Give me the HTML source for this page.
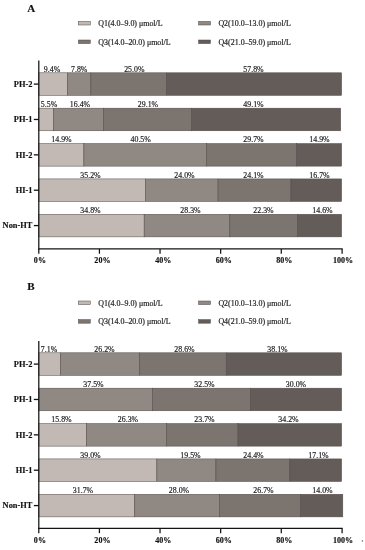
<!DOCTYPE html>
<html><head><meta charset="utf-8"><title>Figure</title>
<style>
html,body{margin:0;padding:0;background:#fff;}
svg{display:block;font-family:"Liberation Serif","DejaVu Serif",serif;fill:#1c1c1c;}
text{stroke:#1c1c1c;stroke-width:0.18px;}
.b{font-weight:bold;fill:#111;stroke:#111;stroke-width:0.15px;}
</style></head><body>
<svg width="365" height="550" viewBox="0 0 365 550">
<rect x="0" y="0" width="365" height="550" fill="#ffffff" stroke="none"/>
<text x="27.2" y="11.50" class="b" font-size="11">A</text>
<rect x="78.4" y="21.40" width="11.9" height="3.6" fill="#c2b9b4" stroke="#4e4745" stroke-width="0.5"/>
<text x="98.20" y="26.00" font-size="7.95">Q1(4.0–9.0) μmol/L</text>
<rect x="198.6" y="21.40" width="11.9" height="3.6" fill="#908983" stroke="#4e4745" stroke-width="0.5"/>
<text x="218.40" y="26.00" font-size="7.95">Q2(10.0–13.0) μmol/L</text>
<rect x="78.4" y="40.00" width="11.9" height="3.6" fill="#7b746f" stroke="#4e4745" stroke-width="0.5"/>
<text x="98.20" y="44.60" font-size="7.95">Q3(14.0–20.0) μmol/L</text>
<rect x="198.6" y="40.00" width="11.9" height="3.6" fill="#645c59" stroke="#4e4745" stroke-width="0.5"/>
<text x="218.40" y="44.60" font-size="7.95">Q4(21.0–59.0) μmol/L</text>
<rect x="38.80" y="72.80" width="28.46" height="22.6" fill="#c2b9b4" stroke="#4e4745" stroke-width="0.5"/>
<rect x="67.26" y="72.80" width="23.62" height="22.6" fill="#908983" stroke="#4e4745" stroke-width="0.5"/>
<rect x="90.88" y="72.80" width="75.70" height="22.6" fill="#7b746f" stroke="#4e4745" stroke-width="0.5"/>
<rect x="166.58" y="72.80" width="175.02" height="22.6" fill="#645c59" stroke="#4e4745" stroke-width="0.5"/>
<text x="52.00" y="71.50" font-size="7.85" text-anchor="middle">9.4%</text>
<text x="79.20" y="71.50" font-size="7.85" text-anchor="middle">7.8%</text>
<text x="134.30" y="71.50" font-size="7.85" text-anchor="middle">25.0%</text>
<text x="253.50" y="71.50" font-size="7.85" text-anchor="middle">57.8%</text>
<line x1="33.80" y1="84.10" x2="38.80" y2="84.10" stroke="#141414" stroke-width="1.3"/>
<text x="32.40" y="86.80" class="b" font-size="8.4" text-anchor="end">PH-2</text>
<rect x="38.80" y="108.17" width="14.53" height="22.6" fill="#c2b9b4" stroke="#4e4745" stroke-width="0.5"/>
<rect x="53.33" y="108.17" width="49.96" height="22.6" fill="#908983" stroke="#4e4745" stroke-width="0.5"/>
<rect x="103.30" y="108.17" width="88.11" height="22.6" fill="#7b746f" stroke="#4e4745" stroke-width="0.5"/>
<rect x="191.41" y="108.17" width="149.28" height="22.6" fill="#645c59" stroke="#4e4745" stroke-width="0.5"/>
<text x="49.00" y="106.87" font-size="7.85" text-anchor="middle">5.5%</text>
<text x="80.00" y="106.87" font-size="7.85" text-anchor="middle">16.4%</text>
<text x="148.00" y="106.87" font-size="7.85" text-anchor="middle">29.1%</text>
<text x="253.50" y="106.87" font-size="7.85" text-anchor="middle">49.1%</text>
<line x1="33.80" y1="119.47" x2="38.80" y2="119.47" stroke="#141414" stroke-width="1.3"/>
<text x="32.40" y="122.17" class="b" font-size="8.4" text-anchor="end">PH-1</text>
<rect x="38.80" y="143.54" width="45.12" height="22.6" fill="#c2b9b4" stroke="#4e4745" stroke-width="0.5"/>
<rect x="83.92" y="143.54" width="122.63" height="22.6" fill="#908983" stroke="#4e4745" stroke-width="0.5"/>
<rect x="206.55" y="143.54" width="89.93" height="22.6" fill="#7b746f" stroke="#4e4745" stroke-width="0.5"/>
<rect x="296.48" y="143.54" width="45.12" height="22.6" fill="#645c59" stroke="#4e4745" stroke-width="0.5"/>
<text x="61.50" y="142.24" font-size="7.85" text-anchor="middle">14.9%</text>
<text x="140.70" y="142.24" font-size="7.85" text-anchor="middle">40.5%</text>
<text x="253.50" y="142.24" font-size="7.85" text-anchor="middle">29.7%</text>
<text x="319.50" y="142.24" font-size="7.85" text-anchor="middle">14.9%</text>
<line x1="33.80" y1="154.84" x2="38.80" y2="154.84" stroke="#141414" stroke-width="1.3"/>
<text x="32.40" y="157.54" class="b" font-size="8.4" text-anchor="end">HI-2</text>
<rect x="38.80" y="178.91" width="106.59" height="22.6" fill="#c2b9b4" stroke="#4e4745" stroke-width="0.5"/>
<rect x="145.39" y="178.91" width="72.67" height="22.6" fill="#908983" stroke="#4e4745" stroke-width="0.5"/>
<rect x="218.06" y="178.91" width="72.97" height="22.6" fill="#7b746f" stroke="#4e4745" stroke-width="0.5"/>
<rect x="291.03" y="178.91" width="50.57" height="22.6" fill="#645c59" stroke="#4e4745" stroke-width="0.5"/>
<text x="90.50" y="177.61" font-size="7.85" text-anchor="middle">35.2%</text>
<text x="184.50" y="177.61" font-size="7.85" text-anchor="middle">24.0%</text>
<text x="253.50" y="177.61" font-size="7.85" text-anchor="middle">24.1%</text>
<text x="319.50" y="177.61" font-size="7.85" text-anchor="middle">16.7%</text>
<line x1="33.80" y1="190.21" x2="38.80" y2="190.21" stroke="#141414" stroke-width="1.3"/>
<text x="32.40" y="192.91" class="b" font-size="8.4" text-anchor="end">HI-1</text>
<rect x="38.80" y="214.28" width="105.37" height="22.6" fill="#c2b9b4" stroke="#4e4745" stroke-width="0.5"/>
<rect x="144.17" y="214.28" width="85.69" height="22.6" fill="#908983" stroke="#4e4745" stroke-width="0.5"/>
<rect x="229.87" y="214.28" width="67.52" height="22.6" fill="#7b746f" stroke="#4e4745" stroke-width="0.5"/>
<rect x="297.39" y="214.28" width="44.21" height="22.6" fill="#645c59" stroke="#4e4745" stroke-width="0.5"/>
<text x="90.50" y="212.98" font-size="7.85" text-anchor="middle">34.8%</text>
<text x="190.50" y="212.98" font-size="7.85" text-anchor="middle">28.3%</text>
<text x="263.50" y="212.98" font-size="7.85" text-anchor="middle">22.3%</text>
<text x="322.50" y="212.98" font-size="7.85" text-anchor="middle">14.6%</text>
<line x1="33.80" y1="225.58" x2="38.80" y2="225.58" stroke="#141414" stroke-width="1.3"/>
<text x="32.40" y="228.28" class="b" font-size="8.4" text-anchor="end">Non-HT</text>
<line x1="38.8" y1="60.60" x2="38.8" y2="249.55" stroke="#141414" stroke-width="1.25"/>
<line x1="38.20" y1="248.95" x2="342.70" y2="248.95" stroke="#141414" stroke-width="1.25"/>
<line x1="38.80" y1="248.95" x2="38.80" y2="253.75" stroke="#141414" stroke-width="1.25"/>
<text x="39.90" y="263.25" class="b" font-size="8.05" text-anchor="middle">0%</text>
<line x1="99.42" y1="248.95" x2="99.42" y2="253.75" stroke="#141414" stroke-width="1.25"/>
<text x="102.42" y="263.25" class="b" font-size="8.05" text-anchor="middle">20%</text>
<line x1="160.04" y1="248.95" x2="160.04" y2="253.75" stroke="#141414" stroke-width="1.25"/>
<text x="163.24" y="263.25" class="b" font-size="8.05" text-anchor="middle">40%</text>
<line x1="220.66" y1="248.95" x2="220.66" y2="253.75" stroke="#141414" stroke-width="1.25"/>
<text x="223.86" y="263.25" class="b" font-size="8.05" text-anchor="middle">60%</text>
<line x1="281.28" y1="248.95" x2="281.28" y2="253.75" stroke="#141414" stroke-width="1.25"/>
<text x="284.28" y="263.25" class="b" font-size="8.05" text-anchor="middle">80%</text>
<line x1="342.10" y1="248.95" x2="342.10" y2="253.75" stroke="#141414" stroke-width="1.25"/>
<text x="343.10" y="263.25" class="b" font-size="8.05" text-anchor="middle">100%</text>
<text x="27.2" y="290.40" class="b" font-size="11">B</text>
<rect x="78.4" y="301.00" width="11.9" height="3.6" fill="#c2b9b4" stroke="#4e4745" stroke-width="0.5"/>
<text x="98.20" y="305.60" font-size="7.95">Q1(4.0–9.0) μmol/L</text>
<rect x="198.6" y="301.00" width="11.9" height="3.6" fill="#908983" stroke="#4e4745" stroke-width="0.5"/>
<text x="218.40" y="305.60" font-size="7.95">Q2(10.0–13.0) μmol/L</text>
<rect x="78.4" y="319.60" width="11.9" height="3.6" fill="#7b746f" stroke="#4e4745" stroke-width="0.5"/>
<text x="98.20" y="324.20" font-size="7.95">Q3(14.0–20.0) μmol/L</text>
<rect x="198.6" y="319.60" width="11.9" height="3.6" fill="#645c59" stroke="#4e4745" stroke-width="0.5"/>
<text x="218.40" y="324.20" font-size="7.95">Q4(21.0–59.0) μmol/L</text>
<rect x="38.80" y="352.80" width="21.50" height="22.6" fill="#c2b9b4" stroke="#4e4745" stroke-width="0.5"/>
<rect x="60.30" y="352.80" width="79.33" height="22.6" fill="#908983" stroke="#4e4745" stroke-width="0.5"/>
<rect x="139.63" y="352.80" width="86.60" height="22.6" fill="#7b746f" stroke="#4e4745" stroke-width="0.5"/>
<rect x="226.23" y="352.80" width="115.37" height="22.6" fill="#645c59" stroke="#4e4745" stroke-width="0.5"/>
<text x="49.00" y="351.50" font-size="7.85" text-anchor="middle">7.1%</text>
<text x="104.50" y="351.50" font-size="7.85" text-anchor="middle">26.2%</text>
<text x="184.50" y="351.50" font-size="7.85" text-anchor="middle">28.6%</text>
<text x="277.50" y="351.50" font-size="7.85" text-anchor="middle">38.1%</text>
<line x1="33.80" y1="364.10" x2="38.80" y2="364.10" stroke="#141414" stroke-width="1.3"/>
<text x="32.40" y="366.80" class="b" font-size="8.4" text-anchor="end">PH-2</text>
<rect x="38.80" y="388.17" width="113.55" height="22.6" fill="#908983" stroke="#4e4745" stroke-width="0.5"/>
<rect x="152.35" y="388.17" width="98.41" height="22.6" fill="#7b746f" stroke="#4e4745" stroke-width="0.5"/>
<rect x="250.76" y="388.17" width="90.84" height="22.6" fill="#645c59" stroke="#4e4745" stroke-width="0.5"/>
<text x="93.50" y="386.87" font-size="7.85" text-anchor="middle">37.5%</text>
<text x="204.50" y="386.87" font-size="7.85" text-anchor="middle">32.5%</text>
<text x="296.00" y="386.87" font-size="7.85" text-anchor="middle">30.0%</text>
<line x1="33.80" y1="399.47" x2="38.80" y2="399.47" stroke="#141414" stroke-width="1.3"/>
<text x="32.40" y="402.17" class="b" font-size="8.4" text-anchor="end">PH-1</text>
<rect x="38.80" y="423.54" width="47.84" height="22.6" fill="#c2b9b4" stroke="#4e4745" stroke-width="0.5"/>
<rect x="86.64" y="423.54" width="79.64" height="22.6" fill="#908983" stroke="#4e4745" stroke-width="0.5"/>
<rect x="166.28" y="423.54" width="71.76" height="22.6" fill="#7b746f" stroke="#4e4745" stroke-width="0.5"/>
<rect x="238.04" y="423.54" width="103.56" height="22.6" fill="#645c59" stroke="#4e4745" stroke-width="0.5"/>
<text x="61.50" y="422.24" font-size="7.85" text-anchor="middle">15.8%</text>
<text x="128.00" y="422.24" font-size="7.85" text-anchor="middle">26.3%</text>
<text x="204.50" y="422.24" font-size="7.85" text-anchor="middle">23.7%</text>
<text x="288.50" y="422.24" font-size="7.85" text-anchor="middle">34.2%</text>
<line x1="33.80" y1="434.84" x2="38.80" y2="434.84" stroke="#141414" stroke-width="1.3"/>
<text x="32.40" y="437.54" class="b" font-size="8.4" text-anchor="end">HI-2</text>
<rect x="38.80" y="458.91" width="118.09" height="22.6" fill="#c2b9b4" stroke="#4e4745" stroke-width="0.5"/>
<rect x="156.89" y="458.91" width="59.05" height="22.6" fill="#908983" stroke="#4e4745" stroke-width="0.5"/>
<rect x="215.94" y="458.91" width="73.88" height="22.6" fill="#7b746f" stroke="#4e4745" stroke-width="0.5"/>
<rect x="289.82" y="458.91" width="51.78" height="22.6" fill="#645c59" stroke="#4e4745" stroke-width="0.5"/>
<text x="90.50" y="457.61" font-size="7.85" text-anchor="middle">39.0%</text>
<text x="190.50" y="457.61" font-size="7.85" text-anchor="middle">19.5%</text>
<text x="253.50" y="457.61" font-size="7.85" text-anchor="middle">24.4%</text>
<text x="318.50" y="457.61" font-size="7.85" text-anchor="middle">17.1%</text>
<line x1="33.80" y1="470.21" x2="38.80" y2="470.21" stroke="#141414" stroke-width="1.3"/>
<text x="32.40" y="472.91" class="b" font-size="8.4" text-anchor="end">HI-1</text>
<rect x="38.80" y="494.28" width="95.99" height="22.6" fill="#c2b9b4" stroke="#4e4745" stroke-width="0.5"/>
<rect x="134.79" y="494.28" width="84.78" height="22.6" fill="#908983" stroke="#4e4745" stroke-width="0.5"/>
<rect x="219.57" y="494.28" width="80.85" height="22.6" fill="#7b746f" stroke="#4e4745" stroke-width="0.5"/>
<rect x="300.42" y="494.28" width="42.39" height="22.6" fill="#645c59" stroke="#4e4745" stroke-width="0.5"/>
<text x="83.00" y="492.98" font-size="7.85" text-anchor="middle">31.7%</text>
<text x="179.00" y="492.98" font-size="7.85" text-anchor="middle">28.0%</text>
<text x="263.50" y="492.98" font-size="7.85" text-anchor="middle">26.7%</text>
<text x="322.50" y="492.98" font-size="7.85" text-anchor="middle">14.0%</text>
<line x1="33.80" y1="505.58" x2="38.80" y2="505.58" stroke="#141414" stroke-width="1.3"/>
<text x="32.40" y="508.28" class="b" font-size="8.4" text-anchor="end">Non-HT</text>
<line x1="38.8" y1="340.90" x2="38.8" y2="529.00" stroke="#141414" stroke-width="1.25"/>
<line x1="38.20" y1="528.40" x2="342.70" y2="528.40" stroke="#141414" stroke-width="1.25"/>
<line x1="38.80" y1="528.40" x2="38.80" y2="533.20" stroke="#141414" stroke-width="1.25"/>
<text x="39.90" y="542.70" class="b" font-size="8.05" text-anchor="middle">0%</text>
<line x1="99.42" y1="528.40" x2="99.42" y2="533.20" stroke="#141414" stroke-width="1.25"/>
<text x="102.42" y="542.70" class="b" font-size="8.05" text-anchor="middle">20%</text>
<line x1="160.04" y1="528.40" x2="160.04" y2="533.20" stroke="#141414" stroke-width="1.25"/>
<text x="163.24" y="542.70" class="b" font-size="8.05" text-anchor="middle">40%</text>
<line x1="220.66" y1="528.40" x2="220.66" y2="533.20" stroke="#141414" stroke-width="1.25"/>
<text x="223.86" y="542.70" class="b" font-size="8.05" text-anchor="middle">60%</text>
<line x1="281.28" y1="528.40" x2="281.28" y2="533.20" stroke="#141414" stroke-width="1.25"/>
<text x="284.28" y="542.70" class="b" font-size="8.05" text-anchor="middle">80%</text>
<line x1="342.10" y1="528.40" x2="342.10" y2="533.20" stroke="#141414" stroke-width="1.25"/>
<text x="343.10" y="542.70" class="b" font-size="8.05" text-anchor="middle">100%</text>
<circle cx="362.4" cy="540.9" r="0.7" fill="#444"/>
</svg>
</body></html>
